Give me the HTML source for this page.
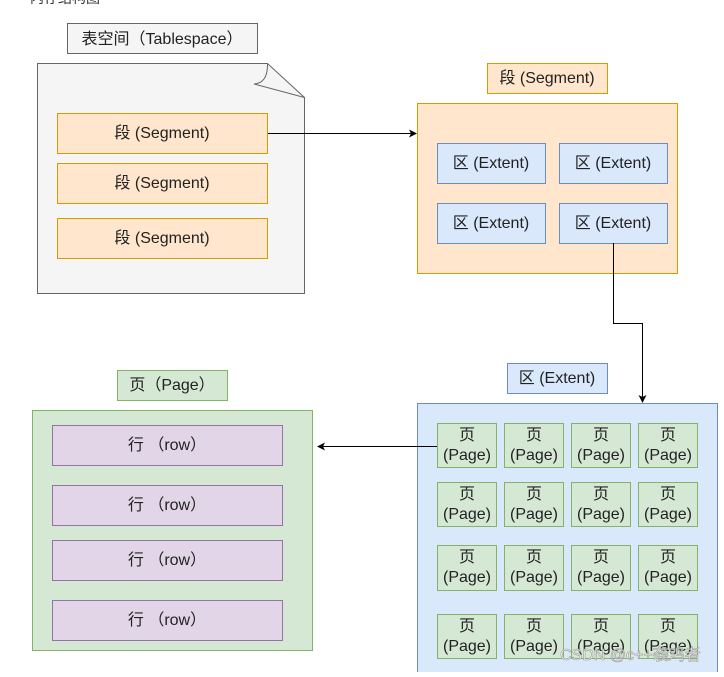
<!DOCTYPE html>
<html><head><meta charset="utf-8"><style>
html,body{margin:0;padding:0;background:#fff;}
svg text{font-family:"Liberation Sans","Noto Sans CJK SC",sans-serif;font-size:16px;fill:#222;}
</style></head><body>
<svg width="724" height="672" xmlns="http://www.w3.org/2000/svg">
<defs><marker id="a" markerWidth="8" markerHeight="8" refX="7" refY="4" orient="auto" markerUnits="userSpaceOnUse"><path d="M0,0 L8,4 L0,8 L2,4 Z" fill="#000"/></marker></defs>
<text x="30" y="3" style="font-size:14px;fill:#333">内存结构图</text>
<rect x="67.5" y="23.5" width="190" height="30" fill="#f5f5f5" stroke="#666"/>
<text x="162" y="44" text-anchor="middle">表空间（Tablespace）</text>
<path d="M37.5,63.5 H267.5 L304.5,97.5 V293.5 H37.5 Z" fill="#f5f5f5" stroke="#666"/>
<path d="M267.5,63.5 Q268,83 254,84 L304.5,97.5" fill="none" stroke="#666"/>
<g fill="#ffe6cc" stroke="#d79b00">
<rect x="57.5" y="113.5" width="210" height="40"/><rect x="57.5" y="163.5" width="210" height="40"/><rect x="57.5" y="218.5" width="210" height="40"/>
</g>
<text x="162" y="138" text-anchor="middle">段 (Segment)</text>
<text x="162" y="188" text-anchor="middle">段 (Segment)</text>
<text x="162" y="243" text-anchor="middle">段 (Segment)</text>
<line x1="268" y1="133.5" x2="416" y2="133.5" stroke="#000" marker-end="url(#a)"/>
<rect x="487.5" y="63.5" width="120" height="30" fill="#ffe6cc" stroke="#d79b00"/>
<text x="547" y="83" text-anchor="middle">段 (Segment)</text>
<rect x="417.5" y="103.5" width="260" height="170" fill="#ffe6cc" stroke="#d79b00"/>
<g fill="#dae8fc" stroke="#6c8ebf">
<rect x="437.5" y="143.5" width="108" height="40"/><rect x="559.5" y="143.5" width="108" height="40"/>
<rect x="437.5" y="203.5" width="108" height="40"/><rect x="559.5" y="203.5" width="108" height="40"/>
</g>
<text x="491" y="168" text-anchor="middle">区 (Extent)</text>
<text x="613" y="168" text-anchor="middle">区 (Extent)</text>
<text x="491" y="228" text-anchor="middle">区 (Extent)</text>
<text x="613" y="228" text-anchor="middle">区 (Extent)</text>
<path d="M613.5,243 V323.5 H642.5 V402" fill="none" stroke="#000" marker-end="url(#a)"/>
<rect x="507.5" y="363.5" width="100" height="30" fill="#dae8fc" stroke="#6c8ebf"/>
<text x="557" y="383" text-anchor="middle">区 (Extent)</text>
<rect x="417.5" y="403.5" width="300" height="280" fill="#dae8fc" stroke="#6c8ebf"/>
<g fill="#d5e8d4" stroke="#82b366">
<rect x="437.5" y="423.5" width="59" height="44"/><rect x="504.5" y="423.5" width="59" height="44"/><rect x="571.5" y="423.5" width="59" height="44"/><rect x="638.5" y="423.5" width="59" height="44"/>
<rect x="437.5" y="482.5" width="59" height="44"/><rect x="504.5" y="482.5" width="59" height="44"/><rect x="571.5" y="482.5" width="59" height="44"/><rect x="638.5" y="482.5" width="59" height="44"/>
<rect x="437.5" y="545.5" width="59" height="45"/><rect x="504.5" y="545.5" width="59" height="45"/><rect x="571.5" y="545.5" width="59" height="45"/><rect x="638.5" y="545.5" width="59" height="45"/>
<rect x="437.5" y="614.5" width="59" height="44"/><rect x="504.5" y="614.5" width="59" height="44"/><rect x="571.5" y="614.5" width="59" height="44"/><rect x="638.5" y="614.5" width="59" height="44"/>
</g>
<g text-anchor="middle">
<text x="467" y="440">页</text><text x="467" y="460">(Page)</text><text x="534" y="440">页</text><text x="534" y="460">(Page)</text><text x="601" y="440">页</text><text x="601" y="460">(Page)</text><text x="668" y="440">页</text><text x="668" y="460">(Page)</text>
<text x="467" y="499">页</text><text x="467" y="519">(Page)</text><text x="534" y="499">页</text><text x="534" y="519">(Page)</text><text x="601" y="499">页</text><text x="601" y="519">(Page)</text><text x="668" y="499">页</text><text x="668" y="519">(Page)</text>
<text x="467" y="562">页</text><text x="467" y="582">(Page)</text><text x="534" y="562">页</text><text x="534" y="582">(Page)</text><text x="601" y="562">页</text><text x="601" y="582">(Page)</text><text x="668" y="562">页</text><text x="668" y="582">(Page)</text>
<text x="467" y="631">页</text><text x="467" y="651">(Page)</text><text x="534" y="631">页</text><text x="534" y="651">(Page)</text><text x="601" y="631">页</text><text x="601" y="651">(Page)</text><text x="668" y="631">页</text><text x="668" y="651">(Page)</text>
</g>
<line x1="437" y1="446.5" x2="318" y2="446.5" stroke="#000" marker-end="url(#a)"/>
<rect x="117.5" y="370.5" width="110" height="30" fill="#d5e8d4" stroke="#82b366"/>
<text x="172" y="390" text-anchor="middle">页（Page）</text>
<rect x="32.5" y="410.5" width="280" height="240" fill="#d5e8d4" stroke="#82b366"/>
<g fill="#e1d5e7" stroke="#9673a6">
<rect x="52.5" y="425.5" width="230" height="40"/><rect x="52.5" y="485.5" width="230" height="40"/><rect x="52.5" y="540.5" width="230" height="40"/><rect x="52.5" y="600.5" width="230" height="40"/>
</g>
<g text-anchor="middle">
<text x="167" y="450">行 （row）</text><text x="167" y="510">行 （row）</text><text x="167" y="565">行 （row）</text><text x="167" y="625">行 （row）</text>
</g>
<text x="560" y="660" style="font-size:16px;fill:#fff;fill-opacity:0.75;stroke:#999;stroke-width:0.6">CSDN @c++袭鸡者</text>
</svg>
</body></html>
